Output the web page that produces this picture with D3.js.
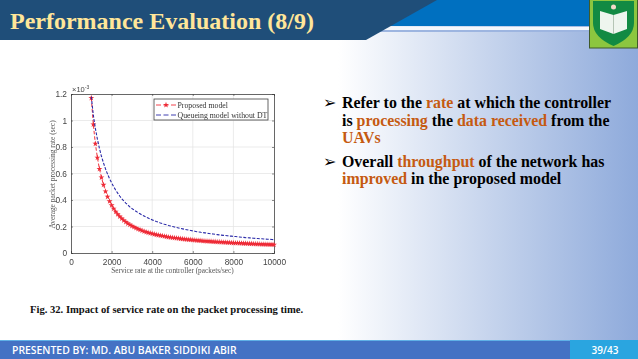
<!DOCTYPE html>
<html>
<head>
<meta charset="utf-8">
<script src="https://cdn.jsdelivr.net/npm/d3@7"></script>
<style>
html, body { margin: 0; padding: 0; background: #fff; overflow: hidden; }
svg { display: block; }
</style>
</head>
<body>
<div id="slide"></div>
<script>
// values, one every 100 packets/sec from 1000 to 10000
const serviceRate = [1000,1100,1200,1300,1400,1500,1600,1700,1800,1900,
    2000,2100,2200,2300,2400,2500,2600,2700,2800,2900,
    3000,3100,3200,3300,3400,3500,3600,3700,3800,3900,
    4000,4100,4200,4300,4400,4500,4600,4700,4800,4900,
    5000,5100,5200,5300,5400,5500,5600,5700,5800,5900,
    6000,6100,6200,6300,6400,6500,6600,6700,6800,6900,
    7000,7100,7200,7300,7400,7500,7600,7700,7800,7900,
    8000,8100,8200,8300,8400,8500,8600,8700,8800,8900,
    9000,9100,9200,9300,9400,9500,9600,9700,9800,9900,10000];
const proposedModel = [1.17,0.97,0.825,0.72,0.635,0.57,0.515,0.465,0.425,0.39,
    0.36,0.335,0.312,0.292,0.275,0.26,0.246,0.234,0.223,0.213,
    0.204,0.196,0.188,0.181,0.175,0.169,0.163,0.158,0.154,0.150,
    0.146,0.142,0.138,0.135,0.132,0.129,0.126,0.123,0.120,0.118,
    0.116,0.114,0.112,0.110,0.108,0.106,0.104,0.103,0.101,0.100,
    0.098,0.097,0.095,0.094,0.093,0.091,0.090,0.089,0.088,0.087,
    0.086,0.085,0.084,0.083,0.082,0.081,0.080,0.079,0.078,0.077,
    0.076,0.075,0.075,0.074,0.073,0.072,0.072,0.071,0.070,0.070,
    0.069,0.068,0.068,0.067,0.066,0.066,0.065,0.065,0.064,0.064,0.063];
const queueingModel = [1.18,1.04,0.94,0.86,0.79,0.73,0.68,0.635,0.595,0.56,
    0.53,0.5,0.475,0.452,0.43,0.41,0.393,0.377,0.362,0.348,
    0.336,0.325,0.315,0.305,0.296,0.287,0.279,0.271,0.264,0.257,
    0.25,0.244,0.238,0.233,0.227,0.222,0.217,0.213,0.208,0.204,
    0.2,0.196,0.192,0.189,0.185,0.182,0.179,0.176,0.173,0.17,
    0.167,0.164,0.161,0.159,0.156,0.154,0.152,0.149,0.147,0.145,
    0.143,0.141,0.139,0.137,0.135,0.133,0.132,0.13,0.128,0.127,
    0.125,0.124,0.122,0.121,0.119,0.118,0.116,0.115,0.114,0.113,
    0.111,0.11,0.109,0.108,0.107,0.106,0.105,0.104,0.103,0.102,0.1];
const xTicks = [0, 2000, 4000, 6000, 8000, 10000];
const yTicks = [0, 0.2, 0.4, 0.6, 0.8, 1, 1.2];
const seriesNames = ["Proposed model", "Queueing model without DT"];
const bulletOne = [
    [["Refer to the ", 0], ["rate", 1], [" at which the controller", 0]],
    [["is ", 0], ["processing", 1], [" the ", 0], ["data received", 1], [" from the", 0]],
    [["UAVs", 1]]
];
const bulletTwo = [
    [["Overall ", 0], ["throughput", 1], [" of the network has", 0]],
    [["improved", 1], [" in the proposed model", 0]]
];

const W = 638, H = 359;
const svg = d3.select("#slide").append("svg").attr("width", W).attr("height", H);
const serif = "'Liberation Serif', serif";
const sans = "'Liberation Sans', Arial, sans-serif";

// slide background
const defs = svg.append("defs");
const grad = defs.append("linearGradient").attr("id", "bg");
grad.append("stop").attr("offset", "0.53").attr("stop-color", "#ffffff");
grad.append("stop").attr("offset", "1").attr("stop-color", "#8eaadb");
svg.append("rect").attr("width", W).attr("height", H).attr("fill", "url(#bg)");

// header
svg.append("rect").attr("x", 380).attr("y", 0).attr("width", W - 380).attr("height", 26).attr("fill", "#0070c0");
svg.append("rect").attr("x", 380).attr("y", 27).attr("width", W - 380).attr("height", 3).attr("fill", "#f4f7fc");
svg.append("rect").attr("x", 380).attr("y", 30).attr("width", W - 380).attr("height", 2).attr("fill", "#9db5e0");
svg.append("path").attr("d", "M0,0H437L366,40H0Z").attr("fill", "#1f4e79");
svg.append("text").attr("x", 10).attr("y", 29)
    .attr("font-family", serif).attr("font-weight", "bold").attr("font-size", 24)
    .attr("fill", "#ffe699").text("Performance Evaluation (8/9)");

// logo
const logo = svg.append("g");
logo.append("rect").attr("x", 589.5).attr("y", -1).attr("width", 48).attr("height", 49)
    .attr("fill", "#8cc63f").attr("stroke", "#3f5a2a");
logo.append("path").attr("d", "M593,1H634V23Q634,37 613.500,46Q593,37 593,23Z").attr("fill", "#128a43");
logo.append("path").attr("d", "M600,11L613.500,15L627,11V29L613.500,34L600,29Z").attr("fill", "#eef5ee");
logo.append("path").attr("d", "M613.500,15V34").attr("stroke", "#8fa58f").attr("stroke-width", 0.6);
logo.append("circle").attr("cx", 613.5).attr("cy", 7).attr("r", 2.5).attr("fill", "#f3d9c9");

// chart
const plot = { left: 71, right: 274, top: 94, bottom: 253 };
const x = d3.scaleLinear().domain([0, 10000]).range([plot.left, plot.right]);
const y = d3.scaleLinear().domain([0, 1.2]).range([plot.bottom, plot.top]);
const chart = svg.append("g").style("filter", "blur(0.35px)");

chart.append("rect").attr("x", plot.left).attr("y", plot.top)
    .attr("width", plot.right - plot.left).attr("height", plot.bottom - plot.top).attr("fill", "#fff");

// grid
chart.append("g").selectAll("line").data(xTicks.slice(1, -1)).enter().append("line")
    .attr("x1", d => x(d)).attr("x2", d => x(d)).attr("y1", plot.top).attr("y2", plot.bottom)
    .attr("stroke", "#e3e3e3").attr("stroke-width", 0.7);
chart.append("g").selectAll("line").data(yTicks.slice(1, -1)).enter().append("line")
    .attr("x1", plot.left).attr("x2", plot.right).attr("y1", d => y(d)).attr("y2", d => y(d))
    .attr("stroke", "#e3e3e3").attr("stroke-width", 0.7);

// axes, ticks point inwards like in matlab
const xAxis = chart.append("g").attr("transform", "translate(0," + plot.bottom + ")")
    .call(d3.axisBottom(x).tickValues(xTicks).tickSize(-2).tickPadding(6).tickFormat(d3.format("d")));
const yAxis = chart.append("g").attr("transform", "translate(" + plot.left + ",0)")
    .call(d3.axisLeft(y).tickValues(yTicks).tickSize(-2).tickPadding(4).tickFormat(d => String(d)));
chart.append("g").attr("transform", "translate(0," + plot.top + ")")
    .call(d3.axisTop(x).tickValues(xTicks).tickSize(-2).tickFormat(""));
chart.append("g").attr("transform", "translate(" + plot.right + ",0)")
    .call(d3.axisRight(y).tickValues(yTicks).tickSize(-2).tickFormat(""));
chart.selectAll(".domain").attr("stroke", "#404040").attr("stroke-width", 0.8);
chart.selectAll(".tick line").attr("stroke", "#404040").attr("stroke-width", 0.6);
[xAxis, yAxis].forEach(a => a.selectAll("text")
    .attr("font-family", sans).attr("font-size", 8.3).attr("fill", "#444"));

const expLabel = chart.append("text").attr("x", 72).attr("y", 92)
    .attr("font-family", sans).attr("font-size", 7.5).attr("fill", "#444");
expLabel.append("tspan").text("\u00d710");
expLabel.append("tspan").attr("font-size", 5).attr("dy", -3).text("-3");

chart.append("text").attr("x", 172.5).attr("y", 273)
    .attr("text-anchor", "middle").attr("font-family", serif).attr("font-size", 7.3)
    .attr("fill", "#555").text("Service rate at the controller (packets/sec)");
chart.append("text").attr("transform", "translate(55," + ((plot.top + plot.bottom) / 2 + 1) + ") rotate(-90)")
    .attr("text-anchor", "middle").attr("font-family", serif).attr("font-size", 7.4)
    .attr("fill", "#555").text("Average packet processing rate (sec)");

// series
const line = d3.line().x((d, i) => x(serviceRate[i])).y(d => y(d));
const star = d3.symbol().type(d3.symbolStar).size(11);
chart.append("path").datum(proposedModel).attr("d", line).attr("fill", "none")
    .attr("stroke", "#f0303a").attr("stroke-width", 1).attr("stroke-dasharray", "3.500,2");
chart.append("g").selectAll("path").data(proposedModel).enter().append("path")
    .attr("d", star)
    .attr("transform", (d, i) => "translate(" + x(serviceRate[i]) + "," + y(d) + ")")
    .attr("fill", "#ee2a36");
chart.append("path").datum(queueingModel).attr("d", line).attr("fill", "none")
    .attr("stroke", "#2a2aa8").attr("stroke-width", 1.1).attr("stroke-dasharray", "3,1.5");

// legend
const legend = chart.append("g");
legend.append("rect").attr("x", 154).attr("y", 99).attr("width", 114).attr("height", 21)
    .attr("fill", "#fff").attr("stroke", "#404040").attr("stroke-width", 0.8);
const legendColors = ["#f0303a", "#2a2aa8"];
seriesNames.forEach((name, i) => {
    const ly = 105 + i * 10;
    legend.append("line").attr("x1", 156).attr("x2", 176).attr("y1", ly).attr("y2", ly)
        .attr("stroke", legendColors[i]).attr("stroke-width", 0.9).attr("stroke-dasharray", "5,2.5");
    if (i === 0) {
        legend.append("path").attr("d", star).attr("transform", "translate(166," + ly + ")").attr("fill", "#ee2a36");
    }
    legend.append("text").attr("x", 177.5).attr("y", ly + 2.5)
        .attr("font-family", serif).attr("font-size", 7.8).attr("fill", "#333").text(name);
});

// bullets on the right
function bullet(lines, baselines) {
    svg.append("text").attr("x", 323).attr("y", baselines[0])
        .attr("font-family", "'DejaVu Sans', sans-serif").attr("font-size", 16).attr("fill", "#000").text("\u27a2");
    lines.forEach((parts, i) => {
        const t = svg.append("text").attr("x", 342).attr("y", baselines[i])
            .attr("font-family", serif).attr("font-weight", "bold").attr("font-size", 15.9);
        parts.forEach(p => t.append("tspan").attr("fill", p[1] ? "#c55a11" : "#000").text(p[0]));
    });
}
bullet(bulletOne, [108, 126, 143]);
bullet(bulletTwo, [167, 184]);

// caption
svg.append("text").attr("x", 30).attr("y", 313)
    .attr("font-family", serif).attr("font-weight", "bold").attr("font-size", 10.6)
    .attr("fill", "#111").text("Fig. 32. Impact of service rate on the packet processing time.");

// footer
svg.append("rect").attr("x", 0).attr("y", 340).attr("width", W).attr("height", 19).attr("fill", "#4472c4");
svg.append("rect").attr("x", 0).attr("y", 340).attr("width", W).attr("height", 1).attr("fill", "#5fb0e6");
svg.append("rect").attr("x", 570).attr("y", 340).attr("width", W - 570).attr("height", 19).attr("fill", "#2aa5e0");
svg.append("text").attr("x", 12).attr("y", 354)
    .attr("font-family", "'Open Sans', sans-serif").attr("font-weight", "600").attr("font-size", 10.4)
    .attr("fill", "#fff").text("PRESENTED BY: MD. ABU BAKER SIDDIKI ABIR");
svg.append("text").attr("x", 605).attr("y", 354).attr("text-anchor", "middle")
    .attr("font-family", "'Open Sans', sans-serif").attr("font-weight", "600").attr("font-size", 10)
    .attr("fill", "#fff").text("39/43");
</script>
</body>
</html>
